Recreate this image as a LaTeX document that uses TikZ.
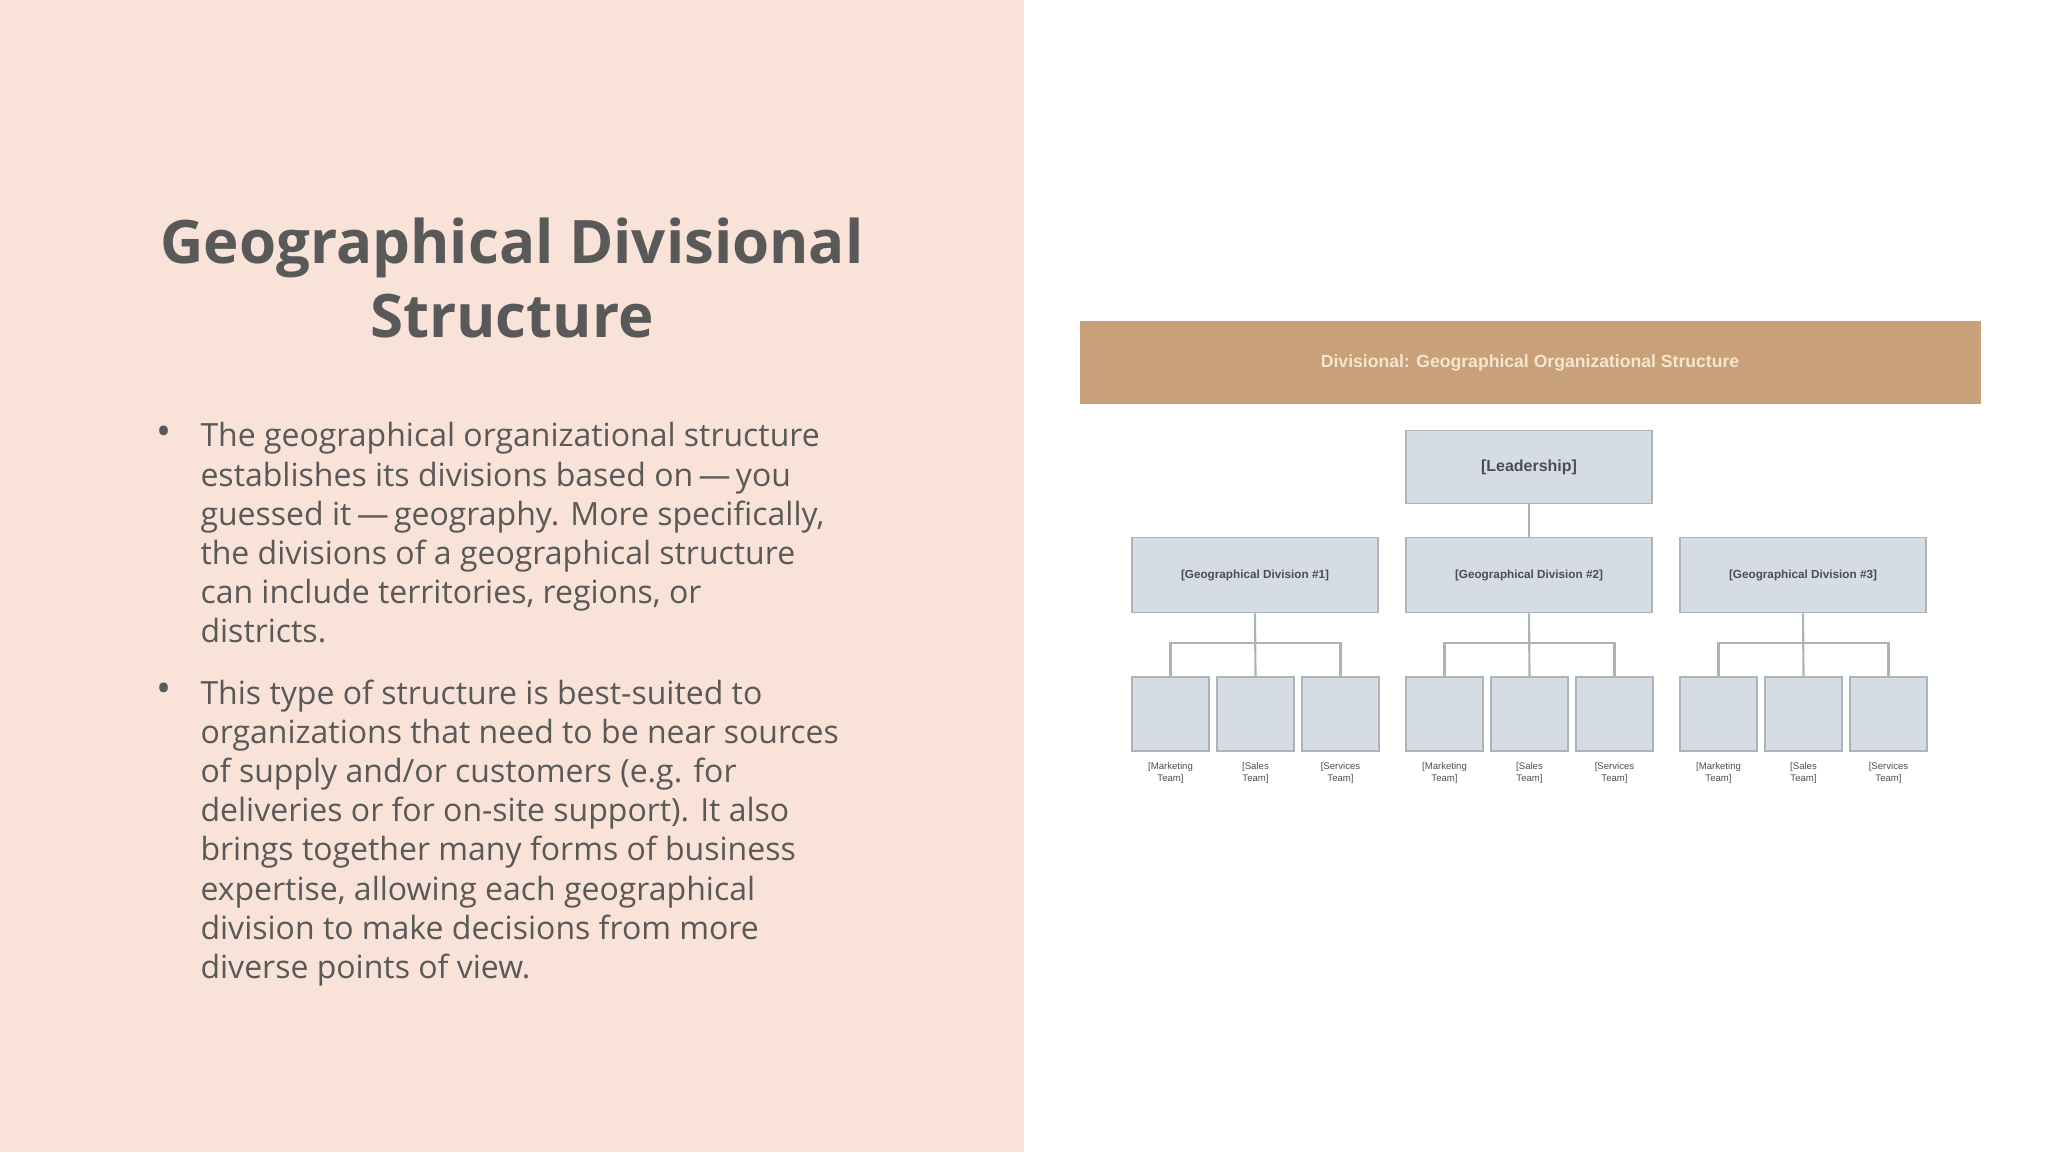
\documentclass[tikz,border=0pt]{standalone}
\usepackage{fontspec}
\setmainfont{Open Sans}
\newfontfamily\chartfont{Liberation Sans}
\definecolor{panel}{HTML}{F9E3D8}
\definecolor{ink}{HTML}{595959}
\definecolor{banner}{HTML}{C8A07A}
\definecolor{bannertxt}{HTML}{F5E6CC}
\definecolor{boxfill}{HTML}{D6DCE4}
\definecolor{boxline}{HTML}{AEB3BA}
\definecolor{boxtxt}{HTML}{4A4F57}
\newcommand{\mybul}{\llap{\raisebox{0.5pt}{\fontsize{15}{14.7}\selectfont\textbullet}\hspace{11pt}}}
\tikzset{
  bodytext/.style={anchor=north west,align=left,inner sep=0pt,text=ink,font=\fontsize{12}{14.7}\selectfont},
  orgbox/.style={draw=boxline,fill=boxfill,line width=0.7pt,text=boxtxt,font=\chartfont\bfseries,inner sep=0pt},
  lead/.style={orgbox,minimum width=92.25pt,minimum height=27.4pt,font=\chartfont\bfseries\fontsize{6}{7}\selectfont},
  div/.style={orgbox,minimum width=92.25pt,minimum height=28.1pt,font=\chartfont\bfseries\fontsize{4.4}{5}\selectfont},
  team/.style={orgbox,minimum width=28.9pt,minimum height=27.75pt},
  tlabel/.style={text=boxtxt,align=center,inner sep=0pt,font=\chartfont\fontsize{3.6}{4.2}\selectfont},
  conn/.style={draw=boxline,line width=0.8pt}
}
\begin{document}
\begin{tikzpicture}[x=0.375pt,y=-0.375pt]
\useasboundingbox (0,0) rectangle (2048,1152);
\fill[white] (0,0) rectangle (2048,1152);
\fill[panel] (0,0) rectangle (1024,1152);
% title
\node[text=ink,align=center,font=\bfseries\fontsize{22.5}{27.4}\selectfont] (title) at (512,278) {Geographical Divisional\\Structure};
% bullets
\node[bodytext] (t1) at (200,422) {\mybul The geographical organizational structure\\establishes its divisions based on\,—\,you\\guessed it\,—\,geography. More specifically,\\the divisions of a geographical structure\\can include territories, regions, or\\districts.};
\node[bodytext] (t2) at (200,679) {\mybul This type of structure is best-suited to\\organizations that need to be near sources\\of supply and/or customers (e.g. for\\deliveries or for on-site support). It also\\brings together many forms of business\\expertise, allowing each geographical\\division to make decisions from more\\diverse points of view.};
% banner
\fill[banner] (1080,321) rectangle (1981,404);
\node[text=bannertxt,font=\chartfont\bfseries\fontsize{6.6}{8}\selectfont] (bt) at (1530,363) {Divisional: Geographical Organizational Structure};
% leadership
\node[lead] (L) at (1529,467) {[Leadership]};
\foreach \i/\n in {0/1,1/2,2/3}{
  \pgfmathsetmacro{\dx}{\i*274}
  \node[div] (D\n) at (1255+\dx,575) {[Geographical Division \#\n]};
  \node[team] (M\n) at (1170.5+\dx,714) {};
  \node[team] (S\n) at (1255.5+\dx,714) {};
  \node[team] (V\n) at (1340.5+\dx,714) {};
  \node[tlabel] (ML\n) at (1170.5+\dx,773) {[Marketing\\Team]};
  \node[tlabel] (SL\n) at (1255.5+\dx,773) {[Sales\\Team]};
  \node[tlabel] (VL\n) at (1340.5+\dx,773) {[Services\\Team]};
  \coordinate (J\n) at (1255.5+\dx,643);
  \draw[conn] (D\n.south) -- (S\n.north);
  \draw[conn] (M\n.north) |- (J\n) -| (V\n.north);
}
\draw[conn] (L.south) -- (D2.north);
\end{tikzpicture}
\end{document}
